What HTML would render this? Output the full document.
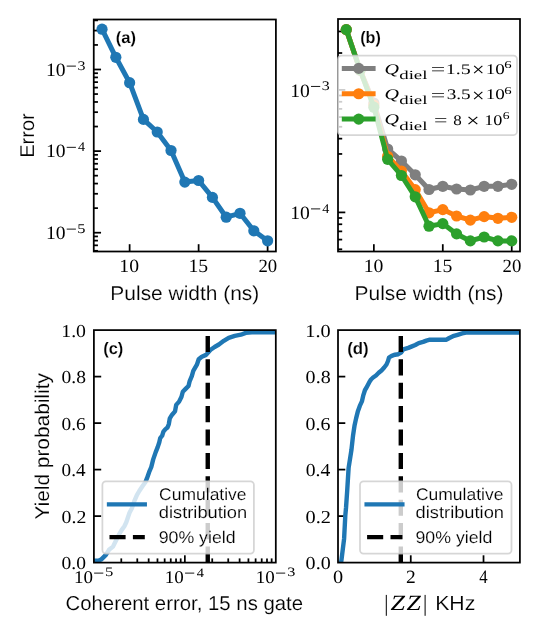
<!DOCTYPE html>
<html><head><meta charset="utf-8"><style>html,body{margin:0;padding:0;background:#fff;overflow:hidden}svg{display:block;text-rendering:geometricPrecision;will-change:transform} text.s{stroke:#fff;stroke-width:0.15px}</style></head>
<body>
<svg width="540" height="635" viewBox="0 0 540 635">
<rect width="540" height="635" fill="#fff"/>
<defs>
<clipPath id="ca"><rect x="93.75" y="19.5" width="182.14999999999998" height="232.0"/></clipPath>
<clipPath id="cb"><rect x="338.0" y="19.0" width="182.0" height="232.5"/></clipPath>
<clipPath id="cc"><rect x="93.9" y="330.1" width="181.9" height="232.5"/></clipPath>
<clipPath id="cd"><rect x="338.0" y="330.1" width="181.89999999999998" height="232.5"/></clipPath>
</defs>
<line x1="129.63" y1="251.50" x2="129.63" y2="244.20" stroke="#000" stroke-width="1.75"/>
<line x1="198.62" y1="251.50" x2="198.62" y2="244.20" stroke="#000" stroke-width="1.75"/>
<line x1="267.62" y1="251.50" x2="267.62" y2="244.20" stroke="#000" stroke-width="1.75"/>
<line x1="93.75" y1="69.50" x2="101.05" y2="69.50" stroke="#000" stroke-width="1.75"/>
<line x1="93.75" y1="151.10" x2="101.05" y2="151.10" stroke="#000" stroke-width="1.75"/>
<line x1="93.75" y1="232.70" x2="101.05" y2="232.70" stroke="#000" stroke-width="1.75"/>
<line x1="93.75" y1="44.94" x2="97.95" y2="44.94" stroke="#000" stroke-width="1.75"/>
<line x1="93.75" y1="30.57" x2="97.95" y2="30.57" stroke="#000" stroke-width="1.75"/>
<line x1="93.75" y1="20.37" x2="97.95" y2="20.37" stroke="#000" stroke-width="1.75"/>
<line x1="93.75" y1="126.54" x2="97.95" y2="126.54" stroke="#000" stroke-width="1.75"/>
<line x1="93.75" y1="112.17" x2="97.95" y2="112.17" stroke="#000" stroke-width="1.75"/>
<line x1="93.75" y1="101.97" x2="97.95" y2="101.97" stroke="#000" stroke-width="1.75"/>
<line x1="93.75" y1="94.06" x2="97.95" y2="94.06" stroke="#000" stroke-width="1.75"/>
<line x1="93.75" y1="87.60" x2="97.95" y2="87.60" stroke="#000" stroke-width="1.75"/>
<line x1="93.75" y1="82.14" x2="97.95" y2="82.14" stroke="#000" stroke-width="1.75"/>
<line x1="93.75" y1="77.41" x2="97.95" y2="77.41" stroke="#000" stroke-width="1.75"/>
<line x1="93.75" y1="73.23" x2="97.95" y2="73.23" stroke="#000" stroke-width="1.75"/>
<line x1="93.75" y1="208.14" x2="97.95" y2="208.14" stroke="#000" stroke-width="1.75"/>
<line x1="93.75" y1="193.77" x2="97.95" y2="193.77" stroke="#000" stroke-width="1.75"/>
<line x1="93.75" y1="183.57" x2="97.95" y2="183.57" stroke="#000" stroke-width="1.75"/>
<line x1="93.75" y1="175.66" x2="97.95" y2="175.66" stroke="#000" stroke-width="1.75"/>
<line x1="93.75" y1="169.20" x2="97.95" y2="169.20" stroke="#000" stroke-width="1.75"/>
<line x1="93.75" y1="163.74" x2="97.95" y2="163.74" stroke="#000" stroke-width="1.75"/>
<line x1="93.75" y1="159.01" x2="97.95" y2="159.01" stroke="#000" stroke-width="1.75"/>
<line x1="93.75" y1="154.83" x2="97.95" y2="154.83" stroke="#000" stroke-width="1.75"/>
<line x1="93.75" y1="250.80" x2="97.95" y2="250.80" stroke="#000" stroke-width="1.75"/>
<line x1="93.75" y1="245.34" x2="97.95" y2="245.34" stroke="#000" stroke-width="1.75"/>
<line x1="93.75" y1="240.61" x2="97.95" y2="240.61" stroke="#000" stroke-width="1.75"/>
<line x1="93.75" y1="236.43" x2="97.95" y2="236.43" stroke="#000" stroke-width="1.75"/>
<g>
<polyline points="102.03,29.20 115.83,57.30 129.63,82.70 143.43,119.40 157.23,132.00 171.03,150.50 184.82,182.10 198.62,180.50 212.42,197.40 226.22,217.20 240.02,213.30 253.82,230.80 267.62,240.80" fill="none" stroke="#1f77b4" stroke-width="5.0" stroke-linejoin="round" stroke-linecap="butt" />
<circle cx="102.03" cy="29.20" r="5.6" fill="#1f77b4"/>
<circle cx="115.83" cy="57.30" r="5.6" fill="#1f77b4"/>
<circle cx="129.63" cy="82.70" r="5.6" fill="#1f77b4"/>
<circle cx="143.43" cy="119.40" r="5.6" fill="#1f77b4"/>
<circle cx="157.23" cy="132.00" r="5.6" fill="#1f77b4"/>
<circle cx="171.03" cy="150.50" r="5.6" fill="#1f77b4"/>
<circle cx="184.82" cy="182.10" r="5.6" fill="#1f77b4"/>
<circle cx="198.62" cy="180.50" r="5.6" fill="#1f77b4"/>
<circle cx="212.42" cy="197.40" r="5.6" fill="#1f77b4"/>
<circle cx="226.22" cy="217.20" r="5.6" fill="#1f77b4"/>
<circle cx="240.02" cy="213.30" r="5.6" fill="#1f77b4"/>
<circle cx="253.82" cy="230.80" r="5.6" fill="#1f77b4"/>
<circle cx="267.62" cy="240.80" r="5.6" fill="#1f77b4"/>
</g>
<rect x="93.75" y="19.50" width="182.15" height="232.00" fill="none" stroke="#000" stroke-width="1.75" stroke-linejoin="miter"/>
<text x="115.67" y="43.09" font-family='"Liberation Sans", sans-serif' font-size="16.41" textLength="20.36" lengthAdjust="spacingAndGlyphs" fill="#000" style="font-weight:bold;" class="s" >(a)</text>
<text x="119.37" y="272.12" font-family='"Liberation Serif", serif' font-size="18.67" textLength="19.68" lengthAdjust="spacingAndGlyphs" fill="#000" style="" class="r" >10</text>
<text x="188.47" y="272.12" font-family='"Liberation Serif", serif' font-size="18.81" textLength="19.70" lengthAdjust="spacingAndGlyphs" fill="#000" style="" class="r" >15</text>
<text x="258.48" y="272.12" font-family='"Liberation Serif", serif' font-size="18.67" textLength="18.74" lengthAdjust="spacingAndGlyphs" fill="#000" style="" class="r" >20</text>
<text x="45.98" y="76.22" font-family='"Liberation Serif", serif' font-size="18.82" textLength="19.56" lengthAdjust="spacingAndGlyphs" fill="#000" style="" class="r" >10</text>
<rect x="66.70" y="65.65" width="9.20" height="0.9" fill="#000"/>
<text x="77.54" y="69.67" font-family='"Liberation Serif", serif' font-size="13.10" textLength="7.99" lengthAdjust="spacingAndGlyphs" fill="#000" style="" class="r" >3</text>
<text x="45.98" y="157.42" font-family='"Liberation Serif", serif' font-size="18.82" textLength="19.56" lengthAdjust="spacingAndGlyphs" fill="#000" style="" class="r" >10</text>
<rect x="66.70" y="146.85" width="9.20" height="0.9" fill="#000"/>
<text x="78.02" y="151.00" font-family='"Liberation Serif", serif' font-size="13.37" textLength="7.10" lengthAdjust="spacingAndGlyphs" fill="#000" style="" class="r" >4</text>
<text x="45.98" y="239.22" font-family='"Liberation Serif", serif' font-size="18.82" textLength="19.56" lengthAdjust="spacingAndGlyphs" fill="#000" style="" class="r" >10</text>
<rect x="66.70" y="228.65" width="9.20" height="0.9" fill="#000"/>
<text x="77.35" y="232.67" font-family='"Liberation Serif", serif' font-size="13.24" textLength="8.19" lengthAdjust="spacingAndGlyphs" fill="#000" style="" class="r" >5</text>
<text x="110.38" y="299.80" font-family='"Liberation Sans", sans-serif' font-size="20.00" textLength="148.92" lengthAdjust="spacingAndGlyphs" fill="#000" style="" class="s" >Pulse width (ns)</text>
<g transform="translate(33.8,156.1) rotate(-90)">
<text x="-1.64" y="0.00" font-family='"Liberation Sans", sans-serif' font-size="20.00" textLength="44.37" lengthAdjust="spacingAndGlyphs" fill="#000" style="" class="s" >Error</text>
</g>
<line x1="373.85" y1="251.50" x2="373.85" y2="244.20" stroke="#000" stroke-width="1.75"/>
<line x1="442.79" y1="251.50" x2="442.79" y2="244.20" stroke="#000" stroke-width="1.75"/>
<line x1="511.73" y1="251.50" x2="511.73" y2="244.20" stroke="#000" stroke-width="1.75"/>
<line x1="338.00" y1="89.90" x2="345.30" y2="89.90" stroke="#000" stroke-width="1.75"/>
<line x1="338.00" y1="212.40" x2="345.30" y2="212.40" stroke="#000" stroke-width="1.75"/>
<line x1="338.00" y1="53.02" x2="342.20" y2="53.02" stroke="#000" stroke-width="1.75"/>
<line x1="338.00" y1="31.45" x2="342.20" y2="31.45" stroke="#000" stroke-width="1.75"/>
<line x1="338.00" y1="175.52" x2="342.20" y2="175.52" stroke="#000" stroke-width="1.75"/>
<line x1="338.00" y1="153.95" x2="342.20" y2="153.95" stroke="#000" stroke-width="1.75"/>
<line x1="338.00" y1="138.65" x2="342.20" y2="138.65" stroke="#000" stroke-width="1.75"/>
<line x1="338.00" y1="126.78" x2="342.20" y2="126.78" stroke="#000" stroke-width="1.75"/>
<line x1="338.00" y1="117.08" x2="342.20" y2="117.08" stroke="#000" stroke-width="1.75"/>
<line x1="338.00" y1="108.88" x2="342.20" y2="108.88" stroke="#000" stroke-width="1.75"/>
<line x1="338.00" y1="101.77" x2="342.20" y2="101.77" stroke="#000" stroke-width="1.75"/>
<line x1="338.00" y1="95.51" x2="342.20" y2="95.51" stroke="#000" stroke-width="1.75"/>
<line x1="338.00" y1="249.28" x2="342.20" y2="249.28" stroke="#000" stroke-width="1.75"/>
<line x1="338.00" y1="239.58" x2="342.20" y2="239.58" stroke="#000" stroke-width="1.75"/>
<line x1="338.00" y1="231.38" x2="342.20" y2="231.38" stroke="#000" stroke-width="1.75"/>
<line x1="338.00" y1="224.27" x2="342.20" y2="224.27" stroke="#000" stroke-width="1.75"/>
<line x1="338.00" y1="218.01" x2="342.20" y2="218.01" stroke="#000" stroke-width="1.75"/>
<polyline points="346.27,29.60 360.06,70.00 373.85,103.00 387.64,149.00 401.42,161.00 415.21,174.80 429.00,189.50 442.79,186.30 456.58,189.00 470.36,190.00 484.15,186.30 497.94,186.30 511.73,184.30" fill="none" stroke="#7f7f7f" stroke-width="5.0" stroke-linejoin="round" stroke-linecap="butt" />
<circle cx="346.27" cy="29.60" r="5.6" fill="#7f7f7f"/>
<circle cx="360.06" cy="70.00" r="5.6" fill="#7f7f7f"/>
<circle cx="373.85" cy="103.00" r="5.6" fill="#7f7f7f"/>
<circle cx="387.64" cy="149.00" r="5.6" fill="#7f7f7f"/>
<circle cx="401.42" cy="161.00" r="5.6" fill="#7f7f7f"/>
<circle cx="415.21" cy="174.80" r="5.6" fill="#7f7f7f"/>
<circle cx="429.00" cy="189.50" r="5.6" fill="#7f7f7f"/>
<circle cx="442.79" cy="186.30" r="5.6" fill="#7f7f7f"/>
<circle cx="456.58" cy="189.00" r="5.6" fill="#7f7f7f"/>
<circle cx="470.36" cy="190.00" r="5.6" fill="#7f7f7f"/>
<circle cx="484.15" cy="186.30" r="5.6" fill="#7f7f7f"/>
<circle cx="497.94" cy="186.30" r="5.6" fill="#7f7f7f"/>
<circle cx="511.73" cy="184.30" r="5.6" fill="#7f7f7f"/>
<polyline points="346.27,29.60 360.06,70.00 373.85,105.00 387.64,156.30 401.42,171.00 415.21,189.60 429.00,212.80 442.79,209.60 456.58,216.00 470.36,220.10 484.15,216.60 497.94,218.30 511.73,217.30" fill="none" stroke="#ff7f0e" stroke-width="5.0" stroke-linejoin="round" stroke-linecap="butt" />
<circle cx="346.27" cy="29.60" r="5.6" fill="#ff7f0e"/>
<circle cx="360.06" cy="70.00" r="5.6" fill="#ff7f0e"/>
<circle cx="373.85" cy="105.00" r="5.6" fill="#ff7f0e"/>
<circle cx="387.64" cy="156.30" r="5.6" fill="#ff7f0e"/>
<circle cx="401.42" cy="171.00" r="5.6" fill="#ff7f0e"/>
<circle cx="415.21" cy="189.60" r="5.6" fill="#ff7f0e"/>
<circle cx="429.00" cy="212.80" r="5.6" fill="#ff7f0e"/>
<circle cx="442.79" cy="209.60" r="5.6" fill="#ff7f0e"/>
<circle cx="456.58" cy="216.00" r="5.6" fill="#ff7f0e"/>
<circle cx="470.36" cy="220.10" r="5.6" fill="#ff7f0e"/>
<circle cx="484.15" cy="216.60" r="5.6" fill="#ff7f0e"/>
<circle cx="497.94" cy="218.30" r="5.6" fill="#ff7f0e"/>
<circle cx="511.73" cy="217.30" r="5.6" fill="#ff7f0e"/>
<polyline points="346.27,29.60 360.06,70.00 373.85,107.20 387.64,159.30 401.42,175.50 415.21,196.80 429.00,226.20 442.79,223.60 456.58,233.90 470.36,240.90 484.15,237.00 497.94,240.90 511.73,240.90" fill="none" stroke="#2ca02c" stroke-width="5.0" stroke-linejoin="round" stroke-linecap="butt" />
<circle cx="346.27" cy="29.60" r="5.6" fill="#2ca02c"/>
<circle cx="360.06" cy="70.00" r="5.6" fill="#2ca02c"/>
<circle cx="373.85" cy="107.20" r="5.6" fill="#2ca02c"/>
<circle cx="387.64" cy="159.30" r="5.6" fill="#2ca02c"/>
<circle cx="401.42" cy="175.50" r="5.6" fill="#2ca02c"/>
<circle cx="415.21" cy="196.80" r="5.6" fill="#2ca02c"/>
<circle cx="429.00" cy="226.20" r="5.6" fill="#2ca02c"/>
<circle cx="442.79" cy="223.60" r="5.6" fill="#2ca02c"/>
<circle cx="456.58" cy="233.90" r="5.6" fill="#2ca02c"/>
<circle cx="470.36" cy="240.90" r="5.6" fill="#2ca02c"/>
<circle cx="484.15" cy="237.00" r="5.6" fill="#2ca02c"/>
<circle cx="497.94" cy="240.90" r="5.6" fill="#2ca02c"/>
<circle cx="511.73" cy="240.90" r="5.6" fill="#2ca02c"/>
<rect x="338.00" y="19.00" width="182.00" height="232.50" fill="none" stroke="#000" stroke-width="1.75" stroke-linejoin="miter"/>
<text x="360.20" y="43.05" font-family='"Liberation Sans", sans-serif' font-size="16.63" textLength="20.61" lengthAdjust="spacingAndGlyphs" fill="#000" style="font-weight:bold;" class="s" >(b)</text>
<text x="363.67" y="272.12" font-family='"Liberation Serif", serif' font-size="18.67" textLength="19.68" lengthAdjust="spacingAndGlyphs" fill="#000" style="" class="r" >10</text>
<text x="432.67" y="272.12" font-family='"Liberation Serif", serif' font-size="18.81" textLength="19.70" lengthAdjust="spacingAndGlyphs" fill="#000" style="" class="r" >15</text>
<text x="502.58" y="272.12" font-family='"Liberation Serif", serif' font-size="18.67" textLength="18.74" lengthAdjust="spacingAndGlyphs" fill="#000" style="" class="r" >20</text>
<text x="290.28" y="96.52" font-family='"Liberation Serif", serif' font-size="18.82" textLength="19.56" lengthAdjust="spacingAndGlyphs" fill="#000" style="" class="r" >10</text>
<rect x="311.00" y="85.95" width="9.20" height="0.9" fill="#000"/>
<text x="321.84" y="89.97" font-family='"Liberation Serif", serif' font-size="13.10" textLength="7.99" lengthAdjust="spacingAndGlyphs" fill="#000" style="" class="r" >3</text>
<text x="290.28" y="219.02" font-family='"Liberation Serif", serif' font-size="18.82" textLength="19.56" lengthAdjust="spacingAndGlyphs" fill="#000" style="" class="r" >10</text>
<rect x="311.00" y="208.45" width="9.20" height="0.9" fill="#000"/>
<text x="322.32" y="212.60" font-family='"Liberation Serif", serif' font-size="13.37" textLength="7.10" lengthAdjust="spacingAndGlyphs" fill="#000" style="" class="r" >4</text>
<text x="354.58" y="299.80" font-family='"Liberation Sans", sans-serif' font-size="20.00" textLength="148.92" lengthAdjust="spacingAndGlyphs" fill="#000" style="" class="s" >Pulse width (ns)</text>
<rect x="338.0" y="55.7" width="179.0" height="79.3" rx="3.5" ry="3.5" fill="#fff" fill-opacity="0.8" stroke="#ccc" stroke-opacity="0.8" stroke-width="1.75"/>
<line x1="341.8" y1="68.4" x2="375.6" y2="68.4" stroke="#7f7f7f" stroke-width="5"/>
<circle cx="358.7" cy="68.4" r="5.6" fill="#7f7f7f"/>
<line x1="341.8" y1="93.75" x2="375.6" y2="93.75" stroke="#ff7f0e" stroke-width="5"/>
<circle cx="358.7" cy="93.75" r="5.6" fill="#ff7f0e"/>
<line x1="341.8" y1="119.10000000000001" x2="375.6" y2="119.10000000000001" stroke="#2ca02c" stroke-width="5"/>
<circle cx="358.7" cy="119.10000000000001" r="5.6" fill="#2ca02c"/>
<text x="384.59" y="73.60" font-family='"Liberation Serif", serif' font-size="14.80" textLength="14.48" lengthAdjust="spacingAndGlyphs" fill="#000" style="font-style:italic;" class="r" >Q</text>
<text x="399.22" y="78.80" font-family='"Liberation Serif", serif' font-size="12.40" textLength="28.26" lengthAdjust="spacingAndGlyphs" fill="#000" style="" class="r" >diel</text>
<text x="384.59" y="98.95" font-family='"Liberation Serif", serif' font-size="14.80" textLength="14.48" lengthAdjust="spacingAndGlyphs" fill="#000" style="font-style:italic;" class="r" >Q</text>
<text x="399.22" y="104.15" font-family='"Liberation Serif", serif' font-size="12.40" textLength="28.26" lengthAdjust="spacingAndGlyphs" fill="#000" style="" class="r" >diel</text>
<text x="384.59" y="124.30" font-family='"Liberation Serif", serif' font-size="14.80" textLength="14.48" lengthAdjust="spacingAndGlyphs" fill="#000" style="font-style:italic;" class="r" >Q</text>
<text x="399.22" y="129.50" font-family='"Liberation Serif", serif' font-size="12.40" textLength="28.26" lengthAdjust="spacingAndGlyphs" fill="#000" style="" class="r" >diel</text>
<text x="430.72" y="75.44" font-family='"Liberation Serif", serif' font-size="17.60" textLength="14.54" lengthAdjust="spacingAndGlyphs" fill="#000" style="" class="r" >=</text>
<text x="445.85" y="73.79" font-family='"Liberation Serif", serif' font-size="14.68" textLength="24.93" lengthAdjust="spacingAndGlyphs" fill="#000" style="" class="r" >1.5</text>
<text x="472.05" y="76.30" font-family='"Liberation Serif", serif' font-size="19.40" textLength="12.48" lengthAdjust="spacingAndGlyphs" fill="#000" style="" class="r" >×</text>
<text x="485.82" y="73.86" font-family='"Liberation Serif", serif' font-size="14.67" textLength="19.11" lengthAdjust="spacingAndGlyphs" fill="#000" style="" class="r" >10</text>
<text x="504.37" y="68.30" font-family='"Liberation Serif", serif' font-size="10.42" textLength="7.37" lengthAdjust="spacingAndGlyphs" fill="#000" style="" class="r" >6</text>
<text x="430.72" y="100.79" font-family='"Liberation Serif", serif' font-size="17.60" textLength="14.54" lengthAdjust="spacingAndGlyphs" fill="#000" style="" class="r" >=</text>
<text x="446.68" y="99.14" font-family='"Liberation Serif", serif' font-size="14.64" textLength="24.07" lengthAdjust="spacingAndGlyphs" fill="#000" style="" class="r" >3.5</text>
<text x="472.05" y="101.65" font-family='"Liberation Serif", serif' font-size="19.40" textLength="12.48" lengthAdjust="spacingAndGlyphs" fill="#000" style="" class="r" >×</text>
<text x="485.82" y="99.21" font-family='"Liberation Serif", serif' font-size="14.67" textLength="19.11" lengthAdjust="spacingAndGlyphs" fill="#000" style="" class="r" >10</text>
<text x="504.37" y="93.65" font-family='"Liberation Serif", serif' font-size="10.42" textLength="7.37" lengthAdjust="spacingAndGlyphs" fill="#000" style="" class="r" >6</text>
<text x="434.01" y="126.14" font-family='"Liberation Serif", serif' font-size="17.60" textLength="13.45" lengthAdjust="spacingAndGlyphs" fill="#000" style="" class="r" >=</text>
<text x="453.35" y="124.56" font-family='"Liberation Serif", serif' font-size="14.67" textLength="8.49" lengthAdjust="spacingAndGlyphs" fill="#000" style="" class="r" >8</text>
<text x="466.33" y="127.00" font-family='"Liberation Serif", serif' font-size="19.40" textLength="13.31" lengthAdjust="spacingAndGlyphs" fill="#000" style="" class="r" >×</text>
<text x="484.20" y="124.56" font-family='"Liberation Serif", serif' font-size="14.67" textLength="18.19" lengthAdjust="spacingAndGlyphs" fill="#000" style="" class="r" >10</text>
<text x="502.72" y="119.00" font-family='"Liberation Serif", serif' font-size="10.42" textLength="6.79" lengthAdjust="spacingAndGlyphs" fill="#000" style="" class="r" >6</text>
<line x1="93.90" y1="516.10" x2="101.20" y2="516.10" stroke="#000" stroke-width="1.75"/>
<line x1="93.90" y1="469.60" x2="101.20" y2="469.60" stroke="#000" stroke-width="1.75"/>
<line x1="93.90" y1="423.10" x2="101.20" y2="423.10" stroke="#000" stroke-width="1.75"/>
<line x1="93.90" y1="376.60" x2="101.20" y2="376.60" stroke="#000" stroke-width="1.75"/>
<line x1="184.85" y1="562.60" x2="184.85" y2="555.30" stroke="#000" stroke-width="1.75"/>
<line x1="121.28" y1="562.60" x2="121.28" y2="558.40" stroke="#000" stroke-width="1.75"/>
<line x1="137.29" y1="562.60" x2="137.29" y2="558.40" stroke="#000" stroke-width="1.75"/>
<line x1="148.66" y1="562.60" x2="148.66" y2="558.40" stroke="#000" stroke-width="1.75"/>
<line x1="157.47" y1="562.60" x2="157.47" y2="558.40" stroke="#000" stroke-width="1.75"/>
<line x1="164.67" y1="562.60" x2="164.67" y2="558.40" stroke="#000" stroke-width="1.75"/>
<line x1="170.76" y1="562.60" x2="170.76" y2="558.40" stroke="#000" stroke-width="1.75"/>
<line x1="176.04" y1="562.60" x2="176.04" y2="558.40" stroke="#000" stroke-width="1.75"/>
<line x1="180.69" y1="562.60" x2="180.69" y2="558.40" stroke="#000" stroke-width="1.75"/>
<line x1="212.23" y1="562.60" x2="212.23" y2="558.40" stroke="#000" stroke-width="1.75"/>
<line x1="228.24" y1="562.60" x2="228.24" y2="558.40" stroke="#000" stroke-width="1.75"/>
<line x1="239.61" y1="562.60" x2="239.61" y2="558.40" stroke="#000" stroke-width="1.75"/>
<line x1="248.42" y1="562.60" x2="248.42" y2="558.40" stroke="#000" stroke-width="1.75"/>
<line x1="255.62" y1="562.60" x2="255.62" y2="558.40" stroke="#000" stroke-width="1.75"/>
<line x1="261.71" y1="562.60" x2="261.71" y2="558.40" stroke="#000" stroke-width="1.75"/>
<line x1="266.99" y1="562.60" x2="266.99" y2="558.40" stroke="#000" stroke-width="1.75"/>
<line x1="271.64" y1="562.60" x2="271.64" y2="558.40" stroke="#000" stroke-width="1.75"/>
<g clip-path="url(#cc)">
<polyline points="93.00,560.80 96.50,560.80 99.00,560.60 101.10,559.60 105.90,554.90 109.00,549.80 113.00,546.60 114.90,542.70 116.90,538.80 119.30,534.00 121.60,530.10 124.40,526.20 126.30,522.20 127.90,517.50 129.50,512.80 131.90,508.30 134.40,500.90 136.90,495.10 139.30,491.00 142.60,486.10 145.50,482.00 147.10,477.90 149.10,472.20 151.30,467.00 153.20,459.40 155.70,452.10 157.70,447.10 159.30,442.20 160.20,438.10 162.20,435.70 163.40,431.60 165.50,429.10 167.50,427.50 168.80,424.20 169.80,418.40 172.10,414.70 175.00,411.40 176.20,404.90 179.10,401.60 181.50,396.70 182.80,391.80 185.60,388.90 188.50,386.00 189.70,381.10 191.80,376.20 193.30,370.80 196.90,364.70 198.70,359.20 201.80,356.70 206.10,354.90 210.30,350.00 214.60,347.00 218.90,344.50 223.80,340.80 228.70,337.80 234.80,335.90 240.90,334.70 245.80,332.90 251.90,332.30 280.00,332.30" fill="none" stroke="#1f77b4" stroke-width="4.4" stroke-linejoin="round" stroke-linecap="butt" />
<line x1="207.75" y1="562.6" x2="207.75" y2="330.1" stroke="#000" stroke-width="4.4" stroke-dasharray="16.1 7.3"/>
</g>
<rect x="93.90" y="330.10" width="181.90" height="232.50" fill="none" stroke="#000" stroke-width="1.75" stroke-linejoin="miter"/>
<text x="103.18" y="353.55" font-family='"Liberation Sans", sans-serif' font-size="16.63" textLength="20.14" lengthAdjust="spacingAndGlyphs" fill="#000" style="font-weight:bold;" class="s" >(c)</text>
<text x="61.56" y="569.24" font-family='"Liberation Serif", serif' font-size="18.26" textLength="24.39" lengthAdjust="spacingAndGlyphs" fill="#000" style="" class="r" >0.0</text>
<text x="61.55" y="522.74" font-family='"Liberation Serif", serif' font-size="18.26" textLength="24.75" lengthAdjust="spacingAndGlyphs" fill="#000" style="" class="r" >0.2</text>
<text x="61.57" y="476.24" font-family='"Liberation Serif", serif' font-size="18.26" textLength="23.93" lengthAdjust="spacingAndGlyphs" fill="#000" style="" class="r" >0.4</text>
<text x="61.56" y="429.74" font-family='"Liberation Serif", serif' font-size="18.26" textLength="24.21" lengthAdjust="spacingAndGlyphs" fill="#000" style="" class="r" >0.6</text>
<text x="61.56" y="383.24" font-family='"Liberation Serif", serif' font-size="18.26" textLength="24.39" lengthAdjust="spacingAndGlyphs" fill="#000" style="" class="r" >0.8</text>
<text x="61.26" y="336.74" font-family='"Liberation Serif", serif' font-size="18.26" textLength="24.69" lengthAdjust="spacingAndGlyphs" fill="#000" style="" class="r" >1.0</text>
<text x="73.93" y="582.82" font-family='"Liberation Serif", serif' font-size="17.93" textLength="18.99" lengthAdjust="spacingAndGlyphs" fill="#000" style="" class="r" >10</text>
<rect x="94.10" y="572.65" width="9.2" height="0.9" fill="#000"/>
<text x="105.13" y="576.37" font-family='"Liberation Serif", serif' font-size="12.94" textLength="8.32" lengthAdjust="spacingAndGlyphs" fill="#000" style="" class="r" >5</text>
<text x="164.88" y="582.82" font-family='"Liberation Serif", serif' font-size="17.93" textLength="18.99" lengthAdjust="spacingAndGlyphs" fill="#000" style="" class="r" >10</text>
<rect x="185.05" y="572.65" width="9.2" height="0.9" fill="#000"/>
<text x="196.77" y="576.50" font-family='"Liberation Serif", serif' font-size="13.07" textLength="7.21" lengthAdjust="spacingAndGlyphs" fill="#000" style="" class="r" >4</text>
<text x="255.83" y="582.82" font-family='"Liberation Serif", serif' font-size="17.93" textLength="18.99" lengthAdjust="spacingAndGlyphs" fill="#000" style="" class="r" >10</text>
<rect x="276.00" y="572.65" width="9.2" height="0.9" fill="#000"/>
<text x="287.22" y="576.38" font-family='"Liberation Serif", serif' font-size="12.80" textLength="8.11" lengthAdjust="spacingAndGlyphs" fill="#000" style="" class="r" >3</text>
<text x="65.47" y="609.60" font-family='"Liberation Sans", sans-serif' font-size="20.00" textLength="237.63" lengthAdjust="spacingAndGlyphs" fill="#000" style="" class="s" >Coherent error, 15 ns gate</text>
<g transform="translate(48.6,519.1) rotate(-90)">
<text x="-0.46" y="0.00" font-family='"Liberation Sans", sans-serif' font-size="20.00" textLength="146.40" lengthAdjust="spacingAndGlyphs" fill="#000" style="" class="s" >Yield probability</text>
</g>
<rect x="102.4" y="481.3" width="151.50" height="72.30" rx="3.5" ry="3.5" fill="#fff" fill-opacity="0.8" stroke="#ccc" stroke-opacity="0.8" stroke-width="1.75"/>
<line x1="109.00" y1="504.4" x2="144.80" y2="504.4" stroke="#1f77b4" stroke-width="4.3" stroke-linecap="square"/>
<line x1="109.50" y1="537.1" x2="144.80" y2="537.1" stroke="#000" stroke-width="4.4" stroke-dasharray="16.1 7.3"/>
<text x="159.11" y="500.10" font-family='"Liberation Sans", sans-serif' font-size="16.90" textLength="87.46" lengthAdjust="spacingAndGlyphs" fill="#000" style="" class="s" >Cumulative</text>
<text x="158.83" y="517.50" font-family='"Liberation Sans", sans-serif' font-size="16.90" textLength="88.35" lengthAdjust="spacingAndGlyphs" fill="#000" style="" class="s" >distribution</text>
<text x="158.67" y="542.90" font-family='"Liberation Sans", sans-serif' font-size="16.90" textLength="76.98" lengthAdjust="spacingAndGlyphs" fill="#000" style="" class="s" >90% yield</text>
<line x1="338.00" y1="516.10" x2="345.30" y2="516.10" stroke="#000" stroke-width="1.75"/>
<line x1="338.00" y1="469.60" x2="345.30" y2="469.60" stroke="#000" stroke-width="1.75"/>
<line x1="338.00" y1="423.10" x2="345.30" y2="423.10" stroke="#000" stroke-width="1.75"/>
<line x1="338.00" y1="376.60" x2="345.30" y2="376.60" stroke="#000" stroke-width="1.75"/>
<line x1="410.76" y1="562.60" x2="410.76" y2="555.30" stroke="#000" stroke-width="1.75"/>
<line x1="483.52" y1="562.60" x2="483.52" y2="555.30" stroke="#000" stroke-width="1.75"/>
<g clip-path="url(#cd)">
<polyline points="340.50,564.00 341.40,560.60 344.10,538.70 345.30,515.60 346.00,508.00 347.20,490.70 348.60,468.00 351.40,450.20 353.10,435.10 354.60,425.20 356.10,418.40 357.80,411.60 359.80,405.90 361.90,401.40 363.20,395.70 365.00,390.00 366.40,387.80 369.30,382.20 371.00,379.50 373.10,377.50 376.00,375.50 378.70,372.80 381.50,370.50 384.20,367.50 386.50,364.50 388.00,361.00 389.00,357.50 391.70,355.80 395.00,354.70 398.30,354.20 401.00,352.60 403.30,349.40 408.30,347.90 412.00,346.40 415.30,345.00 418.70,343.10 423.10,341.90 426.40,340.60 429.80,339.70 446.50,339.70 449.30,338.00 453.00,336.20 457.60,334.80 462.20,333.40 465.90,332.50 525.00,332.50" fill="none" stroke="#1f77b4" stroke-width="4.4" stroke-linejoin="round" stroke-linecap="butt" />
<line x1="400.8" y1="562.6" x2="400.8" y2="330.1" stroke="#000" stroke-width="4.4" stroke-dasharray="16.1 7.3"/>
</g>
<rect x="338.00" y="330.10" width="181.90" height="232.50" fill="none" stroke="#000" stroke-width="1.75" stroke-linejoin="miter"/>
<text x="347.16" y="353.55" font-family='"Liberation Sans", sans-serif' font-size="16.63" textLength="21.48" lengthAdjust="spacingAndGlyphs" fill="#000" style="font-weight:bold;" class="s" >(d)</text>
<text x="305.64" y="569.24" font-family='"Liberation Serif", serif' font-size="18.26" textLength="25.02" lengthAdjust="spacingAndGlyphs" fill="#000" style="" class="r" >0.0</text>
<text x="305.63" y="522.74" font-family='"Liberation Serif", serif' font-size="18.26" textLength="25.39" lengthAdjust="spacingAndGlyphs" fill="#000" style="" class="r" >0.2</text>
<text x="305.65" y="476.24" font-family='"Liberation Serif", serif' font-size="18.26" textLength="24.56" lengthAdjust="spacingAndGlyphs" fill="#000" style="" class="r" >0.4</text>
<text x="305.64" y="429.74" font-family='"Liberation Serif", serif' font-size="18.26" textLength="24.85" lengthAdjust="spacingAndGlyphs" fill="#000" style="" class="r" >0.6</text>
<text x="305.64" y="383.24" font-family='"Liberation Serif", serif' font-size="18.26" textLength="25.02" lengthAdjust="spacingAndGlyphs" fill="#000" style="" class="r" >0.8</text>
<text x="305.32" y="336.74" font-family='"Liberation Serif", serif' font-size="18.26" textLength="25.36" lengthAdjust="spacingAndGlyphs" fill="#000" style="" class="r" >1.0</text>
<text x="333.03" y="582.72" font-family='"Liberation Serif", serif' font-size="18.67" textLength="10.15" lengthAdjust="spacingAndGlyphs" fill="#000" style="" class="r" >0</text>
<text x="406.00" y="582.70" font-family='"Liberation Serif", serif' font-size="18.73" textLength="9.73" lengthAdjust="spacingAndGlyphs" fill="#000" style="" class="r" >2</text>
<text x="479.29" y="582.70" font-family='"Liberation Serif", serif' font-size="18.84" textLength="8.39" lengthAdjust="spacingAndGlyphs" fill="#000" style="" class="r" >4</text>
<rect x="385.8" y="594.9" width="1.0" height="20.9" fill="#000"/>
<text x="390.58" y="610.40" font-family='"Liberation Serif", serif' font-size="21.69" textLength="14.50" lengthAdjust="spacingAndGlyphs" fill="#000" style="font-style:italic;" class="r" >Z</text>
<text x="406.59" y="610.40" font-family='"Liberation Serif", serif' font-size="21.69" textLength="14.30" lengthAdjust="spacingAndGlyphs" fill="#000" style="font-style:italic;" class="r" >Z</text>
<rect x="424.6" y="594.9" width="1.0" height="20.9" fill="#000"/>
<text x="435.15" y="610.00" font-family='"Liberation Sans", sans-serif' font-size="20.49" textLength="40.21" lengthAdjust="spacingAndGlyphs" fill="#000" style="" class="s" >KHz</text>
<rect x="360.0" y="481.3" width="151.50" height="72.30" rx="3.5" ry="3.5" fill="#fff" fill-opacity="0.8" stroke="#ccc" stroke-opacity="0.8" stroke-width="1.75"/>
<line x1="366.60" y1="504.4" x2="402.40" y2="504.4" stroke="#1f77b4" stroke-width="4.3" stroke-linecap="square"/>
<line x1="367.10" y1="537.1" x2="402.40" y2="537.1" stroke="#000" stroke-width="4.4" stroke-dasharray="16.1 7.3"/>
<text x="415.91" y="500.10" font-family='"Liberation Sans", sans-serif' font-size="16.90" textLength="87.46" lengthAdjust="spacingAndGlyphs" fill="#000" style="" class="s" >Cumulative</text>
<text x="415.63" y="517.50" font-family='"Liberation Sans", sans-serif' font-size="16.90" textLength="88.35" lengthAdjust="spacingAndGlyphs" fill="#000" style="" class="s" >distribution</text>
<text x="415.47" y="542.90" font-family='"Liberation Sans", sans-serif' font-size="16.90" textLength="76.98" lengthAdjust="spacingAndGlyphs" fill="#000" style="" class="s" >90% yield</text>
</svg>
</body></html>
